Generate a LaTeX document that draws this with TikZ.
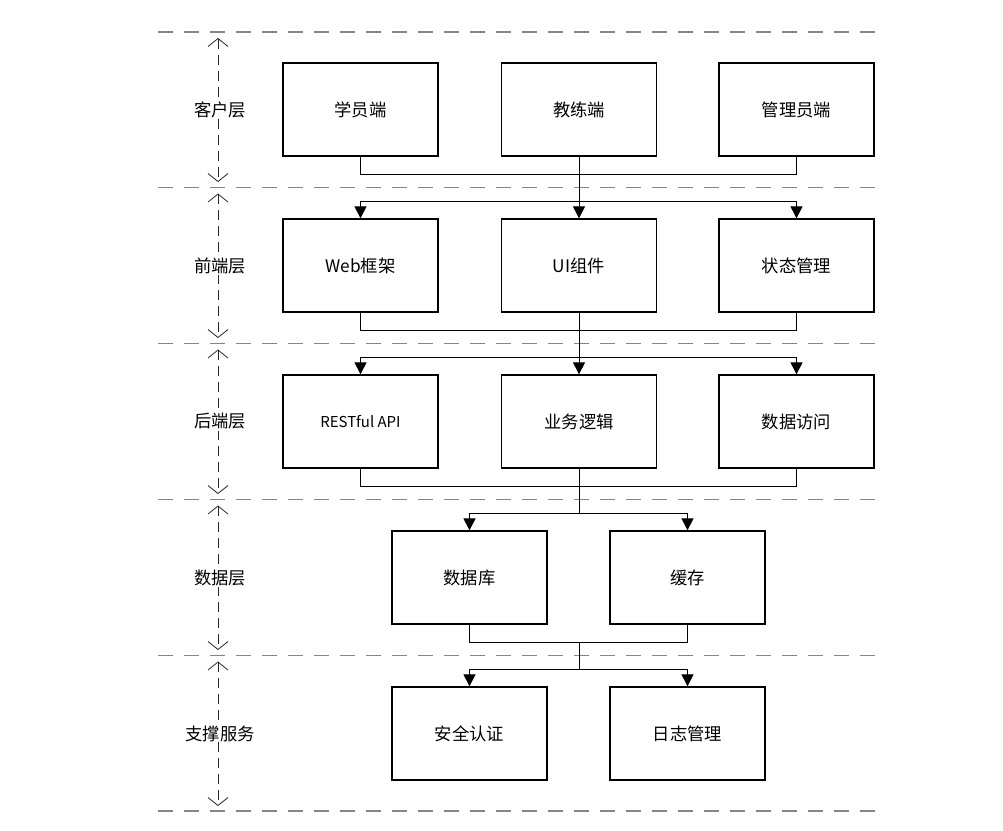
\documentclass[tikz,border=0pt]{standalone}
\usepackage{fontspec}
\setmainfont{Noto Sans CJK SC}
\usetikzlibrary{arrows.meta}
\begin{document}
\begin{tikzpicture}[x=1pt,y=-1pt,
  box/.style={draw=black,line width=1.3pt,minimum width=155pt,minimum height=93pt,inner sep=0pt,font=\fontsize{17.3}{19}\selectfont},
  layerlabel/.style={fill=white,inner sep=1pt,font=\fontsize{17.3}{19}\selectfont},
  sep/.style={draw=gray!95,line width=1.3pt,dash pattern=on 15pt off 11pt},
  span/.style={draw=black!85,line width=0.9pt,dash pattern=on 10pt off 6pt,{Straight Barb[length=8pt,width=20pt,line width=0.8pt]}-{Straight Barb[length=8pt,width=20pt,line width=0.8pt]}},
  link/.style={draw=black,line width=1pt},
  arr/.style={link,-{Triangle[length=12pt,width=12pt]}}]
\useasboundingbox (0,0) rectangle (1003,830);
% separators
\foreach \yy/\nm in {32/s0,187.5/s1,343.5/s2,499.5/s3,655.5/s4,811/s5}{
  \coordinate (\nm l) at (158,\yy); \coordinate (\nm r) at (876,\yy);
  \draw[sep] (\nm l) -- (\nm r);}
% layer spans
\foreach \ta/\tb/\nm in {38/182/p1,193.5/338/p2,349.5/494/p3,505.5/650/p4,661.5/806/p5}{
  \coordinate (\nm t) at (218,\ta); \coordinate (\nm b) at (218,\tb);
  \draw[span] (\nm t) -- (\nm b);}
\node[layerlabel] (L1) at (220,109.5) {客户层};
\node[layerlabel] (L2) at (220,265.5) {前端层};
\node[layerlabel] (L3) at (220,421.5) {后端层};
\node[layerlabel] (L4) at (220,577.5) {数据层};
\node[layerlabel] (L5) at (220,733.5) {支撑服务};
% boxes
\node[box] (a1) at (360.5,109.5) {学员端};
\node[box] (a2) at (579,109.5) {教练端};
\node[box] (a3) at (796.5,109.5) {管理员端};
\node[box] (b1) at (360.5,265.5) {Web框架};
\node[box] (b2) at (579,265.5) {UI组件};
\node[box] (b3) at (796.5,265.5) {状态管理};
\node[box,font=\fontsize{15}{17}\selectfont] (c1) at (360.5,421.5) {RESTful API};
\node[box] (c2) at (579,421.5) {业务逻辑};
\node[box] (c3) at (796.5,421.5) {数据访问};
\node[box] (d1) at (469.5,577.5) {数据库};
\node[box] (d2) at (687.5,577.5) {缓存};
\node[box] (e1) at (469.5,733.5) {安全认证};
\node[box] (e2) at (687.5,733.5) {日志管理};
% connectors
\coordinate (m1) at (579,174); \coordinate (n1) at (579,201);
\coordinate (m2) at (579,330); \coordinate (n2) at (579,357);
\coordinate (m3) at (579,486); \coordinate (n3) at (579,513);
\coordinate (m4) at (579,642); \coordinate (n4) at (579,669);
\foreach \s in {a1,a2,a3}{\draw[link] (\s.south) |- (m1);}
\draw[link] (m1) -- (n1);
\foreach \t in {b1,b2,b3}{\draw[arr] (n1) -| (\t.north);}
\foreach \s in {b1,b2,b3}{\draw[link] (\s.south) |- (m2);}
\draw[link] (m2) -- (n2);
\foreach \t in {c1,c2,c3}{\draw[arr] (n2) -| (\t.north);}
\foreach \s in {c1,c2,c3}{\draw[link] (\s.south) |- (m3);}
\draw[link] (m3) -- (n3);
\foreach \t in {d1,d2}{\draw[arr] (n3) -| (\t.north);}
\foreach \s in {d1,d2}{\draw[link] (\s.south) |- (m4);}
\draw[link] (m4) -- (n4);
\foreach \t in {e1,e2}{\draw[arr] (n4) -| (\t.north);}
\end{tikzpicture}
\end{document}
